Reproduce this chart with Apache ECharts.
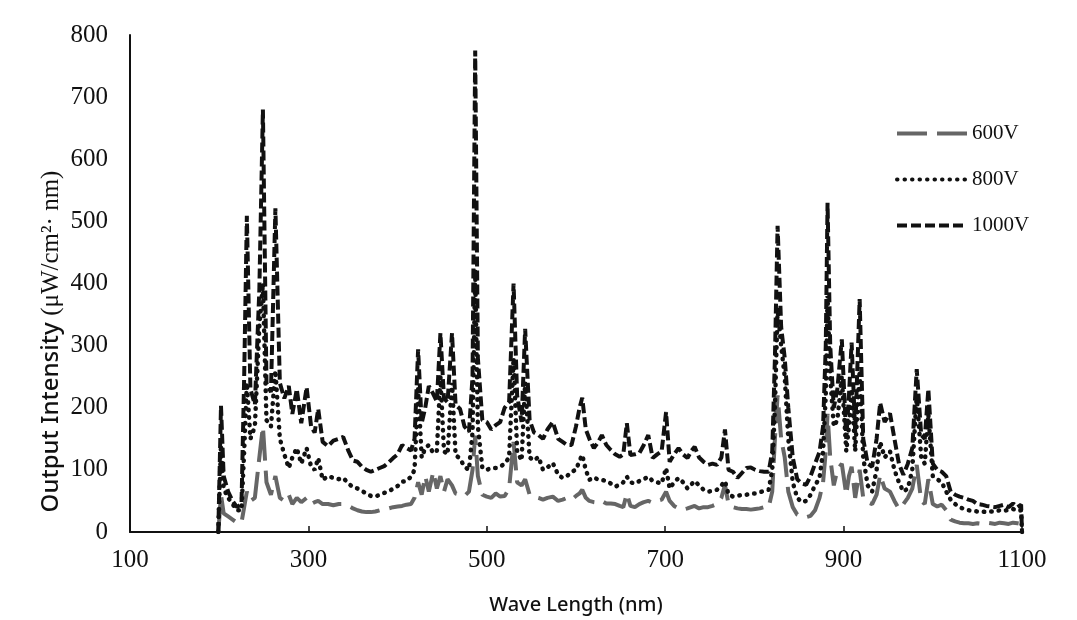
<!DOCTYPE html>
<html>
<head>
<meta charset="utf-8">
<script src="https://cdn.jsdelivr.net/npm/echarts@6/dist/echarts.min.js"></script>
<style>
  html, body { margin: 0; padding: 0; background: #fff; }
  #main { width: 1077px; height: 620px; }
</style>
</head>
<body>
<div id="main"></div>
<script>
// wavelength (nm) of each sample
var waveLength = [
  199, 202, 205, 210, 215, 220, 225, 228, 231, 235,
  240, 245, 249, 253, 258, 263, 268, 273, 278, 282,
  287, 292, 298, 303, 307, 311, 316, 322, 328, 334,
  339, 345, 350, 355, 360, 365, 370, 375, 380, 385,
  390, 395, 400, 405, 410, 415, 419, 423, 427, 431,
  435, 440, 444, 448, 452, 456, 461, 465, 470, 475,
  480, 484, 487, 490, 495, 500, 505, 510, 515, 520,
  525, 530, 534, 539, 543, 548, 553, 558, 563, 568,
  574, 580, 585, 590, 595, 600, 604, 607, 611, 615,
  620, 625, 629, 634, 639, 644, 649, 653, 657, 661,
  666, 671, 676, 681, 686, 691, 696, 701, 705, 710,
  715, 720, 725, 729, 733, 738, 743, 748, 753, 758,
  763, 767, 771, 776, 781, 786, 791, 796, 801, 806,
  811, 816, 820, 823, 826, 830, 834, 838, 843, 848,
  853, 858, 863, 868, 873, 877, 880, 882, 885, 889,
  893, 898, 903, 906, 909, 913, 918, 922, 927, 932,
  937, 941, 946, 952, 957, 962, 967, 972, 977, 982,
  987, 991, 995, 1000, 1005, 1010, 1015, 1020, 1025, 1030,
  1035, 1040, 1045, 1050, 1055, 1060, 1065, 1070, 1075, 1080,
  1085, 1090, 1095, 1099, 1100
];

var v1000 = [
  0, 203, 90, 65, 50, 40, 45, 250, 509, 230,
  205, 390, 680, 240, 225, 521, 240, 215, 235, 190,
  230, 175, 233, 170, 160, 198, 145, 138, 147, 150,
  153, 130, 115, 113, 105, 100, 97, 100, 103, 106,
  112, 119, 125, 140, 135, 131, 150, 294, 175, 200,
  235, 222, 210, 320, 215, 209, 320, 205, 198, 170,
  161, 250, 775, 280, 180, 177, 165, 172, 177, 200,
  209, 400, 220, 177, 327, 180, 160, 156, 150, 165,
  177, 150, 145, 140, 140, 170, 200, 216, 165, 150,
  135, 145, 156, 140, 132, 125, 121, 125, 175, 124,
  125, 127, 140, 156, 119, 125, 130, 193, 113, 125,
  135, 125, 119, 130, 137, 120, 113, 108, 110, 108,
  120, 165, 100, 97, 87, 95, 103, 104, 100, 98,
  97, 97, 130, 280, 493, 330, 280, 200, 120, 85,
  78, 76, 90, 110, 129, 170, 300, 530, 300, 200,
  230, 310, 150, 220, 305, 160, 375, 150, 110, 105,
  150, 208, 177, 191, 150, 110, 92, 110, 135, 262,
  156, 150, 230, 110, 100, 97, 90, 65, 60, 57,
  55, 52, 50, 45, 44, 42, 41, 40, 42, 44,
  40, 46, 40, 44, 0
];

var v800 = [
  0, 140, 70, 55, 45, 35, 35, 130, 240, 150,
  170, 330, 400, 180, 170, 260, 150, 125, 103, 120,
  135, 110, 135, 105, 100, 119, 84, 90, 87, 85,
  87, 78, 72, 70, 66, 62, 58, 57, 60, 63,
  65, 70, 74, 81, 82, 89, 100, 230, 120, 135,
  140, 127, 130, 250, 130, 125, 240, 124, 118, 105,
  100, 160, 420, 170, 103, 100, 103, 103, 105, 110,
  120, 280, 130, 115, 240, 120, 115, 121, 100, 104,
  111, 92, 87, 90, 97, 100, 115, 124, 100, 84,
  88, 84, 84, 82, 78, 73, 76, 80, 89, 80,
  78, 82, 85, 89, 82, 80, 78, 103, 70, 80,
  87, 80, 70, 76, 82, 75, 68, 65, 66, 68,
  75, 82, 60, 57, 58, 60, 60, 62, 62, 64,
  66, 68, 100, 200, 360, 300, 250, 150, 80, 55,
  48, 50, 60, 75, 87, 130, 220, 380, 250, 170,
  180, 250, 130, 170, 230, 130, 260, 120, 75, 65,
  100, 145, 120, 130, 100, 80, 65, 70, 100, 220,
  120, 110, 190, 90, 85, 80, 65, 52, 45, 40,
  37, 35, 34, 33, 33, 32, 33, 33, 35, 34,
  36, 37, 34, 35, 0
];

var v600 = [
  0, 60, 30, 25, 20, 15, 15, 40, 65, 50,
  55, 120, 170, 80, 60, 90, 55, 50, 60, 45,
  55, 48, 55, 45, 48, 50, 45, 45, 43, 45,
  45, 42, 38, 35, 33, 32, 32, 33, 35, 36,
  38, 40, 41, 42, 44, 45, 55, 80, 60, 90,
  65, 97, 70, 90, 65, 85, 75, 62, 60, 58,
  65, 100, 155, 90, 60, 57, 55, 62, 57, 58,
  70, 145, 80, 75, 85, 60, 57, 55, 52, 55,
  57, 50, 52, 55, 52, 58, 62, 68, 55, 50,
  48, 47, 50, 46, 46, 45, 42, 40, 62, 42,
  40, 45, 48, 50, 47, 50, 52, 65, 50, 42,
  38, 36, 38, 40, 42, 38, 40, 40, 42, 45,
  55, 76, 45, 40, 38, 37, 37, 36, 37, 38,
  40, 40, 65, 150, 220, 150, 120, 65, 40, 28,
  25, 24, 26, 35, 55, 80, 130, 190, 120, 75,
  100, 110, 60, 90, 105, 55, 100, 55, 48, 45,
  60, 92, 70, 65, 50, 37, 45, 55, 70, 108,
  50, 45, 85, 45, 41, 44, 35, 20, 17, 15,
  14, 14, 13, 14, 13, 15, 14, 13, 15, 14,
  13, 15, 14, 13, 0
];

var seriesNames = ['600V', '800V', '1000V'];

function pairs(vals) {
    var out = [];
    for (var i = 0; i < waveLength.length; i++) {
        out.push([waveLength[i], vals[i]]);
    }
    return out;
}

var serif = 'Liberation Serif, Times New Roman, serif';

var chart = echarts.init(document.getElementById('main'));
var option = {
    animation: false,
    backgroundColor: '#fff',
    grid: { left: 130, right: 55, top: 35, bottom: 82 },
    legend: {
        orient: 'vertical',
        left: 890,
        top: 118,
        itemWidth: 70,
        itemHeight: 20,
        itemGap: 25,
        data: seriesNames,
        itemStyle: { opacity: 0 },
        lineStyle: { width: 4 },
        textStyle: { fontFamily: serif, fontSize: 21, color: '#111' }
    },
    xAxis: {
        type: 'value',
        min: 100,
        max: 1100,
        interval: 200,
        name: 'Wave Length (nm)',
        nameLocation: 'middle',
        nameGap: 63,
        nameMoveOverlap: false,
        nameTextStyle: { fontFamily: 'Noto Sans', fontSize: 20, fontWeight: 500, color: '#111' },
        axisLine: { lineStyle: { color: '#111', width: 2 } },
        axisTick: { inside: true, length: 6, lineStyle: { color: '#111', width: 1.5 } },
        axisLabel: {
            margin: 16, fontFamily: serif, fontSize: 25, color: '#111',
            formatter: function (v) { return String(v); }
        },
        splitLine: { show: false }
    },
    yAxis: {
        type: 'value',
        min: 0,
        max: 800,
        interval: 100,
        name: '{a|Output Intensity}  {b|(μW/cm²· nm)}',
        nameLocation: 'middle',
        nameGap: 66,
        nameMoveOverlap: false,
        nameTextStyle: {
            padding: [0, 116, 0, 0],
            rich: {
                a: { fontFamily: 'Noto Sans', fontSize: 24, fontWeight: 500, color: '#111' },
                b: { fontFamily: serif, fontSize: 25, color: '#111' }
            }
        },
        axisLine: { show: true, lineStyle: { color: '#111', width: 2 } },
        axisTick: { show: false },
        axisLabel: { margin: 22, fontFamily: serif, fontSize: 25, color: '#111' },
        splitLine: { show: false }
    },
    series: [
        {
            name: '600V',
            type: 'line',
            symbol: 'none',
            z: 2,
            data: pairs(v600),
            lineStyle: { color: '#666', width: 4, type: [30, 10] },
            itemStyle: { color: '#666' }
        },
        {
            name: '800V',
            type: 'line',
            symbol: 'none',
            z: 3,
            data: pairs(v800),
            lineStyle: { color: '#111', width: 4.5, type: [0.5, 7], cap: 'round' },
            itemStyle: { color: '#111' }
        },
        {
            name: '1000V',
            type: 'line',
            symbol: 'none',
            z: 4,
            data: pairs(v1000),
            lineStyle: { color: '#111', width: 4, type: [10, 4] },
            itemStyle: { color: '#111' }
        }
    ]
};
chart.setOption(option);
</script>
</body>
</html>
